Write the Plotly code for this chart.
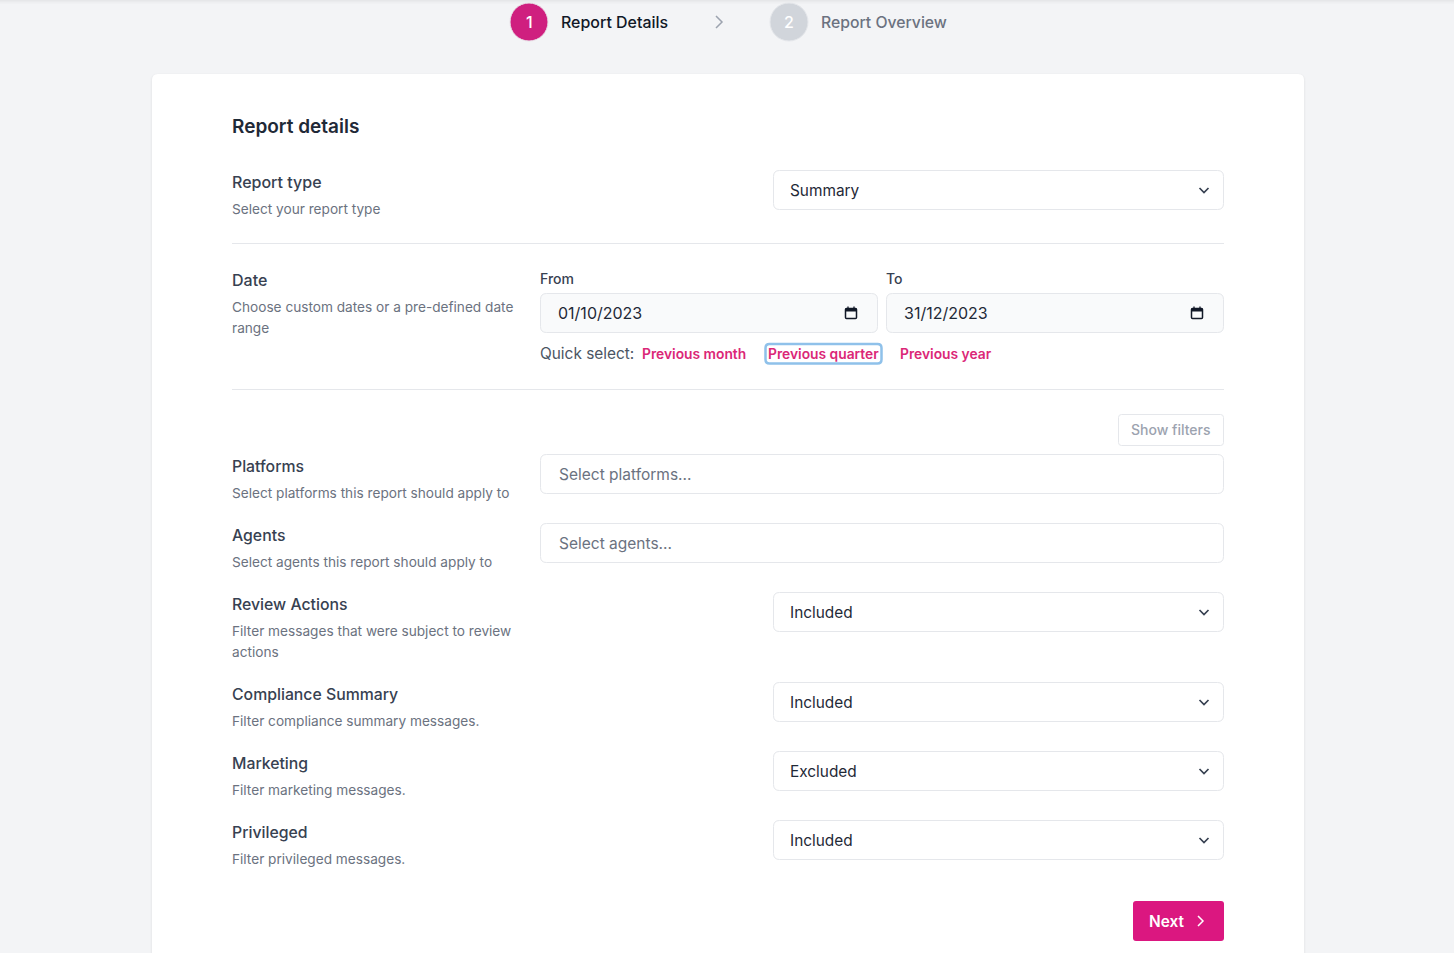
import plotly.graph_objects as go

W, H = 1454, 953
FONT = "Inter"

# text content
steps = ["Report Details", "Report Overview"]
filter_labels = ["Platforms", "Agents", "Review Actions", "Compliance Summary", "Marketing", "Privileged"]
filter_descs = [
    ["Select platforms this report should apply to"],
    ["Select agents this report should apply to"],
    ["Filter messages that were subject to review", "actions"],
    ["Filter compliance summary messages."],
    ["Filter marketing messages."],
    ["Filter privileged messages."],
]
placeholders = ["Select platforms...", "Select agents..."]
select_values = ["Included", "Included", "Excluded", "Included"]
quick_links = ["Previous month", "Previous quarter", "Previous year"]
date_from = "01/10/2023"
date_to = "31/12/2023"

shapes = []
annots = []


def rrect(x0, y0, x1, y1, r=6, fill="white", line=None, lw=1, opacity=None):
    p = (f"M{x0+r},{y0} L{x1-r},{y0} Q{x1},{y0} {x1},{y0+r} L{x1},{y1-r} Q{x1},{y1} {x1-r},{y1} "
         f"L{x0+r},{y1} Q{x0},{y1} {x0},{y1-r} L{x0},{y0+r} Q{x0},{y0} {x0+r},{y0} Z")
    s = dict(type="path", path=p, fillcolor=fill, layer="below",
             line=dict(color=line or "rgba(0,0,0,0)", width=lw if line else 0))
    if opacity is not None:
        s["opacity"] = opacity
    shapes.append(s)


def polyline(pts, color, lw=1.5):
    p = "M" + " L".join(f"{x},{y}" for x, y in pts)
    shapes.append(dict(type="path", path=p, layer="below", line=dict(color=color, width=lw)))


def hline(y, x0=232, x1=1224, color="#e5e7eb"):
    shapes.append(dict(type="line", x0=x0, x1=x1, y0=y, y1=y, layer="below", line=dict(color=color, width=1)))


def txt(x, y, s, size=13.65, color="#6b7280", weight=400, anchor="left"):
    # annotations sit about 1px right of the requested x when left anchored
    if anchor == "left":
        x -= 1
    annots.append(dict(x=x, y=y, text=s, showarrow=False, xanchor=anchor, yanchor="middle", align=anchor,
                       borderpad=0, font=dict(family=FONT, size=size, color=color, weight=weight)))


def chevron_down(cx, cy, color="#374151"):
    polyline([(cx - 4.5, cy - 2), (cx, cy + 2.5), (cx + 4.5, cy - 2)], color, 1.7)


def chevron_right(cx, cy, color, lw=1.5, h=5):
    polyline([(cx - h / 2, cy - h), (cx + h / 2, cy), (cx - h / 2, cy + h)], color, lw)


def calendar(cx, cy):
    rrect(cx - 5.5, cy - 4.5, cx + 5.5, cy + 5.5, r=1, fill="rgba(0,0,0,0)", line="#111827", lw=1.5)
    shapes.append(dict(type="rect", x0=cx - 5.5, x1=cx + 5.5, y0=cy - 4.5, y1=cy - 1.5, layer="below",
                       fillcolor="#111827", line=dict(width=0)))
    for dx in (-3, 3):
        shapes.append(dict(type="line", x0=cx + dx, x1=cx + dx, y0=cy - 6.5, y1=cy - 4, layer="below",
                           line=dict(color="#111827", width=1.3)))


def select(y, value):
    rrect(773.5, y + 0.5, 1223.5, y + 39.5, fill="white", line="#e5e7eb")
    txt(790, y + 20, value, 15.4, "#1f2937")
    chevron_down(1204, y + 20)


# page chrome
for i, a in enumerate([0.05, 0.035, 0.02, 0.01]):
    shapes.append(dict(type="rect", x0=0, x1=W, y0=i, y1=i + 1, layer="below",
                       fillcolor=f"rgba(0,0,0,{a})", line=dict(width=0)))
rrect(150, 73, 1306, 1000, r=8, fill="rgba(0,0,0,0.012)")
rrect(151, 74, 1305, 1000, r=7, fill="rgba(0,0,0,0.02)")
rrect(152, 74, 1304, 1000, r=6, fill="white")

# stepper
shapes.append(dict(type="circle", x0=510, x1=548, y0=3, y1=41, layer="below", fillcolor="#cf1f7f",
                   line=dict(color="#e9e2e8", width=1)))
shapes.append(dict(type="circle", x0=770, x1=808, y0=3, y1=41, layer="below", fillcolor="#d1d5db",
                   line=dict(color="#e5e7eb", width=1)))
txt(529, 22, "1", 16, "white", 500, "center")
txt(789, 22, "2", 16, "white", 500, "center")
txt(561, 22, steps[0], 15.95, "#111827", 500)
txt(821, 22, steps[1], 15.75, "#6b7280", 500)
chevron_right(719, 22, "#9ca3af", 1.5, 6)

# report type
txt(232, 126, "Report details", 19, "#1f2937", 600)
txt(232, 182, "Report type", 16, "#374151", 500)
txt(232, 208.5, "Select your report type")
select(170, "Summary")
hline(243.5)

# date range
txt(232, 280, "Date", 16, "#374151", 500)
txt(232, 306.5, "Choose custom dates or a pre-defined date")
txt(232, 327.5, "range")
txt(540, 278.5, "From", 14, "#374151", 500)
txt(886, 278.5, "To", 14, "#374151", 500)
rrect(540.5, 293.5, 877.5, 332.5, fill="#f9fafb", line="#e5e7eb")
rrect(886.5, 293.5, 1223.5, 332.5, fill="#f9fafb", line="#e5e7eb")
txt(558, 313, date_from, 16, "#1f2937")
txt(904, 313, date_to, 16, "#1f2937")
calendar(851, 313)
calendar(1197, 313)
txt(540, 353, "Quick select:", 15.4, "#4b5563")
rrect(765.5, 344, 881.5, 363.5, r=4, fill="rgba(0,0,0,0)", line="#8fc1ea", lw=2.5)
for x, s in zip([642, 767.5, 899.5], quick_links):
    txt(x, 353.5, s, 13.8, "#db2777", 600)
hline(389.5)

# filters
rrect(1118.5, 414.5, 1223.5, 445.5, r=3, fill="white", line="#e5e7eb")
txt(1170.5, 429.5, "Show filters", 14, "#9ca3af", 500, "center")

label_y = [466, 535, 604, 694, 763, 832]
desc_y = [492.5, 561.5, 630.5, 720.5, 789.5, 858.5]
for lab, lines, ly, dy in zip(filter_labels, filter_descs, label_y, desc_y):
    txt(232, ly, lab, 15.8, "#374151", 500)
    for i, d in enumerate(lines):
        txt(232, dy + 21 * i, d)

for y, s in zip([454, 523], placeholders):
    rrect(540.5, y + 0.5, 1223.5, y + 39.5, fill="white", line="#e5e7eb")
    txt(559, y + 20, s, 15.5, "#6b7280")

for y, v in zip([592, 682, 751, 820], select_values):
    select(y, v)

# next button
rrect(1133, 901, 1224, 941, r=3, fill="#db1780")
txt(1149, 921, "Next", 15.4, "white", 600)
chevron_right(1200.5, 921, "white", 1.5, 5)

fig = go.Figure()
fig.update_layout(
    width=W, height=H, margin=dict(l=0, r=0, t=0, b=0),
    paper_bgcolor="#f3f4f6", plot_bgcolor="#f3f4f6",
    shapes=shapes, annotations=annots, showlegend=False,
    xaxis=dict(range=[0, W], visible=False, fixedrange=True),
    yaxis=dict(range=[H, 0], visible=False, fixedrange=True),
)

fig.write_html("out.html", config=dict(displayModeBar=False),
               post_script="document.body.style.margin='0';document.body.style.overflow='hidden';")
